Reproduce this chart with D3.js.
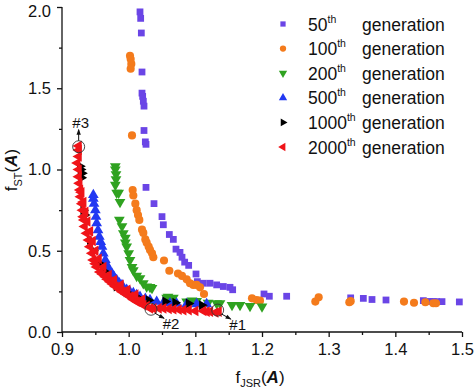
<!DOCTYPE html>
<html>
<head>
<meta charset="utf-8">
<script src="https://cdn.jsdelivr.net/npm/d3@7"></script>
<style>
  body { margin: 0; background: #fff; }
  svg { display: block; font-family: "Liberation Sans", Arial, sans-serif; }
</style>
</head>
<body>
<svg id="chart" width="474" height="391"></svg>
<script>
// points, [fJSR, fST]
const gen50 = [[1.017,1.97],[1.018,1.93],[1.019,1.84],[1.020,1.60],[1.020,1.47],[1.021,1.45],[1.022,1.42],[1.023,1.39],
  [1.023,1.24],[1.025,1.17],[1.026,1.155],[1.026,0.89],[1.038,0.79],[1.050,0.71],[1.052,0.66],[1.061,0.60],[1.067,0.57],
  [1.071,0.51],[1.077,0.49],[1.080,0.46],[1.084,0.43],[1.090,0.41],[1.101,0.357],[1.103,0.31],[1.112,0.30],[1.122,0.30],
  [1.132,0.29],[1.142,0.28],[1.152,0.275],[1.156,0.26],[1.203,0.234],[1.211,0.22],[1.237,0.22],[1.333,0.21],[1.352,0.207],
  [1.365,0.20],[1.386,0.197],[1.442,0.193],[1.452,0.188],[1.457,0.187],[1.462,0.187],[1.470,0.187],[1.496,0.185]];
const gen100 = [[1.002,1.70],[1.003,1.68],[1.004,1.65],[1.003,1.62],[1.005,1.21],[1.006,0.874],[1.007,0.84],[1.010,0.79],
  [1.012,0.75],[1.014,0.72],[1.016,0.69],[1.020,0.63],[1.022,0.61],[1.025,0.57],[1.027,0.55],[1.030,0.525],[1.032,0.505],
  [1.035,0.484],[1.037,0.46],[1.053,0.44],[1.061,0.377],[1.074,0.36],[1.080,0.345],[1.087,0.324],[1.092,0.30],[1.097,0.29],
  [1.102,0.29],[1.107,0.275],[1.113,0.234],[1.185,0.207],[1.192,0.197],[1.197,0.193],[1.280,0.187],[1.285,0.214],
  [1.331,0.183],[1.333,0.19],[1.413,0.187],[1.428,0.18],[1.445,0.183],[1.457,0.177],[1.461,0.177]];
const gen200 = [[0.980,1.02],[0.980,1.00],[0.981,0.97],[0.981,0.94],[0.980,0.905],[0.982,0.857],[0.985,0.857],[0.987,0.80],
  [0.986,0.69],[0.990,0.65],[0.992,0.607],[0.995,0.58],[0.995,0.55],[0.997,0.525],[1.000,0.484],[1.002,0.443],[1.005,0.40],
  [1.007,0.38],[1.012,0.345],[1.017,0.33],[1.022,0.30],[1.027,0.28],[1.032,0.277],[1.035,0.27],[1.057,0.21],[1.059,0.217],
  [1.067,0.21],[1.087,0.187],[1.095,0.193],[1.102,0.19],[1.119,0.18],[1.132,0.177],[1.137,0.177],[1.155,0.166],
  [1.167,0.166],[1.182,0.16],[1.200,0.156]];
const gen500 = [[0.947,0.843],[0.947,0.82],[0.948,0.79],[0.950,0.75],[0.951,0.71],[0.952,0.67],[0.954,0.627],[0.956,0.587],
  [0.958,0.555],[0.960,0.525],[0.962,0.484],[0.965,0.443],[0.967,0.415],[0.970,0.39],[0.975,0.36],[0.978,0.34],[0.982,0.32],
  [0.986,0.30],[0.990,0.29],[0.997,0.26],[1.002,0.248],[1.007,0.24],[1.012,0.228],[1.017,0.217],[1.025,0.205],[1.032,0.197],
  [1.042,0.187],[1.052,0.18],[1.062,0.177],[1.072,0.175],[1.087,0.172],[1.102,0.172],[1.117,0.172]];
const gen1000 = [[0.927,1.02],[0.928,1.00],[0.930,0.977],[0.929,0.95],[0.932,0.75],[0.934,0.72],[0.942,0.566],[0.947,0.50],
  [0.957,0.42],[0.965,0.37],[0.982,0.28],[0.997,0.245],[1.012,0.215],[1.030,0.195],[1.055,0.187],[1.070,0.18],[1.090,0.175],
  [1.110,0.165]];
const gen2000 = [[0.925,1.145],[0.925,1.12],[0.925,1.08],[0.923,1.04],[0.925,1.00],[0.925,0.956],[0.926,0.915],[0.927,0.874],
  [0.928,0.833],[0.930,0.79],[0.931,0.75],[0.932,0.71],[0.933,0.69],[0.934,0.65],[0.937,0.607],[0.940,0.566],[0.942,0.525],
  [0.945,0.484],[0.947,0.443],[0.950,0.42],[0.952,0.40],[0.957,0.37],[0.961,0.355],[0.965,0.34],[0.968,0.325],[0.972,0.31],
  [0.976,0.295],[0.980,0.28],[0.985,0.265],[0.990,0.248],[0.996,0.232],[1.002,0.217],[1.007,0.20],[1.012,0.187],[1.017,0.18],
  [1.022,0.166],[1.027,0.16],[1.032,0.146],[1.037,0.145],[1.045,0.146],[1.052,0.146],[1.060,0.142],[1.067,0.14],
  [1.075,0.138],[1.082,0.135],[1.090,0.135],[1.100,0.13],[1.112,0.13],[1.117,0.125],[1.122,0.125],[1.130,0.12],[1.135,0.125],
  // second row, the band is about two markers thick
  [0.929,0.86],[0.932,0.80],[0.935,0.74],[0.938,0.68],[0.942,0.62],[0.946,0.56],[0.950,0.50],[0.955,0.45],[0.962,0.40],
  [0.970,0.35],[0.978,0.32],[0.988,0.29],[0.998,0.26],[1.010,0.23],[1.020,0.20]];

const genNames = ["50", "100", "200", "500", "1000", "2000"];
const genColors = ["#6a45e6", "#f47b1c", "#2fa220", "#2238f2", "#000000", "#f01419"];
const genSeries = [gen50, gen100, gen200, gen500, gen1000, gen2000];

// annotated points (#1, #2, #3)
const marks = [
  {name: "#3", x: 0.925, y: 1.14},
  {name: "#2", x: 1.0335, y: 0.14},
  {name: "#1", x: 1.1335, y: 0.135}
];

const svg = d3.select("#chart");
const x = d3.scaleLinear().domain([0.9, 1.5]).range([62, 462]);
const y = d3.scaleLinear().domain([0, 2]).range([332, 7]);

const shapes = [
  {type: d3.symbolSquare, size: 46, rot: 0},
  {type: d3.symbolCircle, size: 52, rot: 0},
  {type: d3.symbolTriangle, size: 50, rot: 180},
  {type: d3.symbolTriangle, size: 50, rot: 0},
  {type: d3.symbolTriangle, size: 44, rot: 90},
  {type: d3.symbolTriangle, size: 50, rot: -90}
];

// axes
const fmt = d3.format(".1f");
svg.append("g")
  .attr("transform", "translate(0,332)")
  .call(d3.axisBottom(x).tickValues(d3.range(0.95, 1.5, 0.1)).tickSize(3).tickFormat(""))
  .call(g => g.select(".domain").remove());
svg.append("g")
  .attr("transform", "translate(62,0)")
  .call(d3.axisLeft(y).tickValues([0.25, 0.75, 1.25, 1.75]).tickSize(3).tickFormat(""))
  .call(g => g.select(".domain").remove());

const xAxis = svg.append("g")
  .attr("transform", "translate(0,332)")
  .call(d3.axisBottom(x).tickValues(d3.range(0.9, 1.51, 0.1)).tickSize(5).tickPadding(6).tickFormat(fmt));
xAxis.select(".domain").attr("d", "M62,0H462");
const yAxis = svg.append("g")
  .attr("transform", "translate(62,0)")
  .call(d3.axisLeft(y).ticks(4).tickSize(5).tickPadding(6).tickFormat(fmt));
yAxis.select(".domain").attr("d", "M0,7V332");
// top label sits right at the edge, nudge it down so it stays whole
yAxis.selectAll(".tick text").filter(d => d === 2).attr("dy", "0.55em");
svg.selectAll(".tick text").attr("font-size", 16.5).attr("font-family", "Liberation Sans, Arial").attr("fill", "#111");
svg.selectAll(".domain, .tick line").attr("stroke", "#111").attr("stroke-width", 1.3);

// points
genSeries.forEach((pts, i) => {
  const sh = shapes[i];
  const sym = d3.symbol().type(sh.type).size(sh.size);
  svg.append("g").selectAll("path")
    .data(pts)
    .join("path")
    .attr("d", sym)
    .attr("transform", d => `translate(${x(d[0])},${y(d[1])}) rotate(${sh.rot})`)
    .attr("fill", genColors[i]);
});

// annotations
marks.forEach(m => {
  const cx = x(m.x), cy = y(m.y);
  svg.append("circle").attr("cx", cx).attr("cy", cy).attr("r", 6)
    .attr("fill", "none").attr("stroke", "#333").attr("stroke-width", 0.9);
  let x1, y1, x2, y2, tx, ty;
  if (m.name === "#3") {
    x1 = cx; y1 = cy - 6; x2 = cx; y2 = cy - 17; tx = cx + 2; ty = cy - 19;
  } else {
    x1 = cx + 4; y1 = cy + 4; x2 = cx + 13; y2 = cy + 9; tx = cx + 20; ty = cy + 20;
  }
  svg.append("line").attr("x1", x1).attr("y1", y1).attr("x2", x2).attr("y2", y2)
    .attr("stroke", "#111").attr("stroke-width", 1);
  const ang = Math.atan2(y2 - y1, x2 - x1);
  const hl = 5, hw = 2.2;
  const p = [
    [x2 + Math.cos(ang) * 1, y2 + Math.sin(ang) * 1],
    [x2 - Math.cos(ang) * hl - Math.sin(ang) * hw, y2 - Math.sin(ang) * hl + Math.cos(ang) * hw],
    [x2 - Math.cos(ang) * hl + Math.sin(ang) * hw, y2 - Math.sin(ang) * hl - Math.cos(ang) * hw]
  ];
  svg.append("path").attr("d", "M" + p.join("L") + "Z").attr("fill", "#111");
  svg.append("text").attr("x", tx).attr("y", ty).attr("text-anchor", "middle")
    .attr("font-size", 15).attr("fill", "#111").text(m.name);
});

// legend
const legend = svg.append("g");
genNames.forEach((name, i) => {
  const ly = 24 + i * 24.6;
  const sh = shapes[i];
  legend.append("path")
    .attr("d", d3.symbol().type(sh.type).size(sh.size * 0.6))
    .attr("transform", `translate(283,${ly}) rotate(${sh.rot})`)
    .attr("fill", genColors[i]);
  const t = legend.append("text").attr("x", 308).attr("y", ly + 6.5)
    .attr("font-size", 17.5).attr("fill", "#111");
  t.append("tspan").text(name);
  t.append("tspan").attr("font-size", 10.5).attr("dy", -8).text("th");
  legend.append("text").attr("x", 362).attr("y", ly + 6.5)
    .attr("font-size", 17.5).attr("fill", "#111").text("generation");
});

// axis titles
const xt = svg.append("text").attr("x", 260).attr("y", 383).attr("text-anchor", "middle")
  .attr("font-size", 17).attr("fill", "#111");
xt.append("tspan").text("f");
xt.append("tspan").attr("font-size", 11).attr("dy", 4).text("JSR");
xt.append("tspan").attr("dy", -4).text("(");
xt.append("tspan").attr("font-weight", "bold").attr("font-style", "italic").text("A");
xt.append("tspan").text(")");

const yt = svg.append("text").attr("transform", "translate(17,170) rotate(-90)").attr("text-anchor", "middle")
  .attr("font-size", 17).attr("fill", "#111");
yt.append("tspan").text("f");
yt.append("tspan").attr("font-size", 11).attr("dy", 5).text("ST");
yt.append("tspan").attr("dy", -5).text("(");
yt.append("tspan").attr("font-weight", "bold").attr("font-style", "italic").text("A");
yt.append("tspan").text(")");
</script>
</body>
</html>
